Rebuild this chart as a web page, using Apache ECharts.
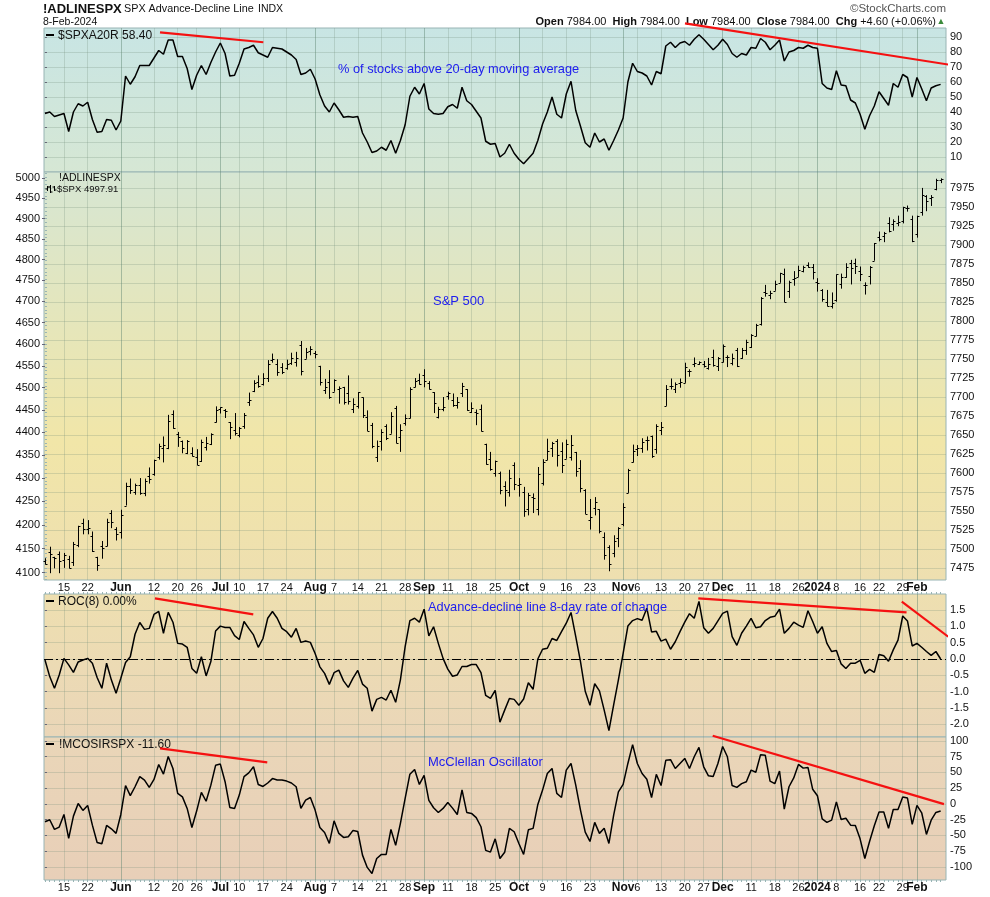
<!DOCTYPE html>
<html><head><meta charset="utf-8">
<style>html,body{margin:0;padding:0;background:#fff}#c{width:990px;height:897px}</style>
<script src="https://cdn.jsdelivr.net/npm/echarts@6/dist/echarts.min.js"></script>
</head><body><div id="c"></div>
<script>
// ---- trading days (month: day list) ----
const tradingDays = [
 ['2023-05',[9,10,11,12,15,16,17,18,19,22,23,24,25,26,30,31]],
 ['2023-06',[1,2,5,6,7,8,9,12,13,14,15,16,20,21,22,23,26,27,28,29,30]],
 ['2023-07',[3,5,6,7,10,11,12,13,14,17,18,19,20,21,24,25,26,27,28,31]],
 ['2023-08',[1,2,3,4,7,8,9,10,11,14,15,16,17,18,21,22,23,24,25,28,29,30,31]],
 ['2023-09',[1,5,6,7,8,11,12,13,14,15,18,19,20,21,22,25,26,27,28,29]],
 ['2023-10',[2,3,4,5,6,9,10,11,12,13,16,17,18,19,20,23,24,25,26,27,30,31]],
 ['2023-11',[1,2,3,6,7,8,9,10,13,14,15,16,17,20,21,22,24,27,28,29,30]],
 ['2023-12',[1,4,5,6,7,8,11,12,13,14,15,18,19,20,21,22,26,27,28,29]],
 ['2024-01',[2,3,4,5,8,9,10,11,12,16,17,18,19,22,23,24,25,26,29,30,31]],
 ['2024-02',[1,2,5,6,7,8]]
];
const categories = tradingDays.flatMap(([m,ds])=>ds.map(d=>m+'-'+String(d).padStart(2,'0')));
const tickLabels = ['15','22','Jun','12','20','26','Jul','10','17','24','Aug','7','14','21','28','Sep','11','18','25','Oct','9','16','23','Nov','6','13','20','27','Dec','11','18','26','2024','8','16','22','29','Feb'];
const tickDates = ['2023-05-15','2023-05-22','2023-06-01','2023-06-12','2023-06-20','2023-06-26','2023-07-03','2023-07-10','2023-07-17','2023-07-24','2023-08-01','2023-08-07','2023-08-14','2023-08-21','2023-08-28','2023-09-01','2023-09-11','2023-09-18','2023-09-25','2023-10-02','2023-10-09','2023-10-16','2023-10-23','2023-11-01','2023-11-06','2023-11-13','2023-11-20','2023-11-27','2023-12-01','2023-12-11','2023-12-18','2023-12-26','2024-01-02','2024-01-08','2024-01-16','2024-01-22','2024-01-29','2024-02-01'];
const monthLabels = ['Jun','Jul','Aug','Sep','Oct','Nov','Dec','2024','Feb'];

// ---- % of stocks above 20-day MA ----
const pctAbove20 = [
39,40,37,38,39,27,40,45.5,44,46.5,
35,26.5,27,35,34.5,28,34,64,58.5,63.5,
71,71,71,76,81,78.5,88,88,77,77,
69,55,64.5,71,65,73,80,86,79,64,
64.5,72.5,82,83,84.5,79.5,78,76.5,83,82.5,
82,80,78,75,65,66,68.5,62,51.5,44,
40,46,41.5,36.5,37,36.5,37,26,20,13,
14,16.5,14.5,21,12.5,21,31.5,50.5,56.5,52,
59,42,39,38.5,39,43.5,45,42.5,56.5,47.5,
45,40.5,36,20.5,18.5,19,10,12.5,18.5,12.5,
8.5,5.5,9,12.5,21,32,40,50,38.5,36,
52,60.5,41,30.5,19.5,16.5,26,20,22,14.5,
21,28,36,60,72.5,67,66,64,58,67,
65.5,84,86.5,83,86,87,84.5,88.5,91.5,88.5,
85,81.5,84.5,88.5,85,79,76.5,79,78,83,
82.5,89,86.5,81.5,84.5,88,74,80,81,83,
82.5,84.5,83,82.5,59,56,55,67.5,58,57.5,
48,46,38.5,28.5,37.5,44,53.5,49,44.5,59,
56.5,65,63,50,63,55.5,47.5,56,57.5,58.4];

// ---- $SPX OHLC ----
const spxOpen = [
4124,4144,4132,4139,4126,4128,4122,4157,4204,4191,
4177,4133,4155,4156,4226,4191,4184,4241,4283,4271,
4285,4268,4304,4308,4345,4366,4366,4440,4397,4381,
4355,4354,4345,4337,4367,4374,4422,4451,4449,4423,
4405,4394,4415,4467,4492,4514,4508,4521,4563,4555,
4548,4544,4556,4559,4598,4566,4585,4579,4550,4494,
4514,4491,4498,4501,4487,4451,4458,4478,4434,4416,
4345,4380,4415,4397,4455,4389,4421,4433,4501,4518,
4530,4510,4490,4434,4452,4481,4473,4462,4487,4497,
4445,4445,4452,4374,4341,4310,4312,4283,4270,4328,
4284,4270,4233,4259,4234,4289,4339,4366,4381,4360,
4342,4345,4357,4322,4274,4211,4235,4233,4175,4153,
4140,4172,4201,4268,4334,4364,4365,4384,4391,4364,
4406,4459,4505,4497,4510,4511,4538,4554,4555,4555,
4546,4571,4549,4559,4569,4557,4587,4568,4586,4593,
4618,4647,4721,4715,4725,4744,4764,4724,4754,4759,
4773,4786,4782,4745,4726,4698,4690,4703,4741,4759,
4792,4791,4772,4739,4761,4797,4854,4856,4889,4886,
4888,4893,4925,4899,4862,4917,4957,4951,4973,4995];
const spxHigh = [
4130,4154,4133,4144,4141,4135,4164,4198,4213,4210,
4186,4133,4166,4213,4231,4195,4232,4290,4299,4288,
4300,4299,4323,4340,4375,4391,4439,4449,4401,4382,
4383,4367,4363,4384,4390,4398,4458,4456,4452,4423,
4443,4412,4443,4489,4517,4528,4533,4563,4578,4565,
4556,4564,4580,4582,4607,4591,4595,4584,4550,4520,
4540,4519,4503,4502,4528,4476,4490,4478,4449,4421,
4382,4407,4418,4445,4459,4418,4440,4501,4522,4532,
4542,4515,4490,4457,4479,4491,4487,4479,4511,4497,
4467,4451,4462,4375,4357,4338,4314,4293,4318,4334,
4300,4281,4268,4267,4324,4341,4386,4379,4385,4378,
4384,4394,4357,4339,4276,4255,4259,4233,4184,4157,
4178,4195,4246,4320,4373,4372,4387,4391,4393,4418,
4423,4506,4521,4512,4521,4557,4542,4569,4560,4561,
4568,4587,4570,4599,4574,4578,4591,4591,4610,4623,
4647,4710,4739,4725,4749,4768,4778,4749,4772,4785,
4785,4793,4789,4755,4729,4727,4721,4764,4766,4791,
4799,4802,4783,4745,4784,4840,4868,4867,4903,4898,
4907,4929,4932,4907,4907,4976,4958,4958,4999,5000];
const spxLow = [
4117,4099,4109,4099,4110,4109,4114,4153,4180,4180,
4143,4104,4129,4155,4193,4167,4171,4241,4266,4264,
4264,4261,4288,4305,4340,4334,4363,4408,4368,4354,
4352,4347,4328,4335,4360,4372,4422,4442,4432,4385,
4393,4389,4408,4459,4490,4500,4505,4513,4557,4527,
4531,4541,4552,4548,4528,4566,4574,4567,4505,4486,
4475,4491,4464,4462,4462,4443,4453,4432,4403,4365,
4335,4360,4383,4397,4376,4357,4415,4431,4501,4507,
4501,4496,4443,4431,4447,4473,4457,4453,4479,4448,
4443,4416,4402,4329,4316,4303,4265,4239,4260,4274,
4260,4217,4220,4225,4220,4284,4339,4346,4325,4311,
4342,4338,4303,4269,4223,4190,4220,4182,4127,4103,
4132,4153,4197,4268,4334,4348,4355,4360,4344,4353,
4394,4459,4496,4488,4500,4511,4525,4547,4552,4546,
4541,4548,4538,4558,4547,4551,4547,4566,4575,4591,
4618,4643,4711,4705,4725,4744,4698,4708,4737,4758,
4769,4780,4752,4723,4699,4688,4683,4699,4730,4756,
4740,4765,4748,4716,4740,4797,4844,4842,4866,4870,
4881,4888,4917,4842,4853,4907,4918,4931,4970,4988];
const spxClose = [
4119,4138,4131,4124,4136,4110,4159,4198,4192,4193,
4146,4115,4151,4205,4206,4180,4221,4282,4274,4284,
4268,4294,4299,4339,4369,4373,4426,4410,4389,4366,
4382,4348,4329,4378,4377,4396,4450,4456,4447,4412,
4399,4410,4439,4472,4510,4505,4523,4555,4566,4535,
4536,4555,4567,4567,4537,4582,4589,4577,4513,4502,
4478,4518,4499,4468,4469,4464,4490,4438,4404,4370,
4370,4400,4388,4436,4376,4406,4433,4498,4515,4508,
4516,4497,4465,4451,4457,4487,4462,4467,4505,4450,
4454,4444,4402,4330,4320,4337,4274,4275,4300,4288,
4288,4229,4264,4258,4309,4336,4358,4377,4350,4328,
4374,4373,4315,4278,4224,4217,4248,4187,4137,4117,
4167,4194,4238,4318,4358,4366,4378,4383,4347,4415,
4412,4496,4503,4508,4514,4547,4538,4557,4559,4550,
4555,4551,4568,4595,4570,4567,4549,4586,4604,4622,
4644,4707,4720,4719,4741,4768,4698,4747,4755,4775,
4782,4783,4770,4743,4705,4689,4697,4764,4757,4783,
4780,4784,4766,4739,4781,4840,4850,4865,4869,4894,
4891,4928,4925,4846,4906,4959,4943,4954,4995,4998];

// ---- ROC(8) of the A-D line ----
const roc8 = [
-.03,-.54,-.90,-.49,.02,-.18,-.41,-.09,-.03,.02,
-.13,-.57,-.90,-.13,-.64,-1.05,-.59,-.11,.07,.76,
1.12,.91,.94,1.37,1.46,.79,1.43,1.13,.48,.46,
.36,-.29,-.44,.07,-.52,-.08,.86,1.01,.97,.97,
.72,.60,1.15,.94,.74,.36,.63,1.25,1.46,1.25,
.94,.84,.67,.94,.51,.55,.51,.17,-.24,-.44,
-.78,-.42,-.34,-.67,-.87,-.59,-.35,-.77,-.90,-1.60,
-1.24,-1.18,-1.26,-.96,-1.33,-.64,.38,1.18,1.25,1.13,
1.53,.71,.99,.48,.02,-.31,-.53,-.49,-.23,-.23,
-.17,-.17,-.42,-1.12,-1.21,-.96,-1.94,-1.57,-1.21,-1.24,
-1.42,-1.23,-.73,-.93,0,.30,.33,.63,.57,.84,
1.10,1.43,.69,-.08,-.99,-1.42,-.76,-.98,-1.57,-2.20,
-1.41,-.64,.17,1.01,1.18,1.24,1.19,1.56,.83,.85,
.55,.61,.30,.53,.84,1.13,1.39,1.25,1.77,.96,
.79,.94,1.17,1.40,1.47,.69,.42,.79,1.01,1.25,
.96,.99,1.18,1.28,1.31,1.53,.79,.94,1.13,1.04,
.97,1.48,1.15,.79,.99,.48,.23,.26,-.15,-.29,
-.13,-.13,-.04,-.44,-.32,-.41,.14,.10,-.07,.28,
.58,1.32,1.17,.40,.48,.36,.23,.11,.23,0];

// ---- McClellan Oscillator ----
const mcClellan = [
-28.6,-25.4,-40.7,-37,-17,-55,-19.6,.5,-10.6,-2.6,
-33.9,-61.4,-63.5,-34.4,-39.7,-47,-17,29,13,27,
43,37.6,26,38.6,62.4,47,75,56,16.4,11,
-7.4,-37.6,-11.6,18,4,29.6,61,63,35,-5.8,
-7.4,13.8,43,49,58.7,30.7,27.5,33,40,37.6,
37.6,36,33,27,-7.4,5.8,10,-10,-37.6,-45.5,
-63,-27,-47,-53.4,-52.4,-42.3,-44,-81.5,-101,-110.6,
-86.8,-80.4,-80.4,-40.7,-66,-31,8.5,47,54.5,30.7,
45,5.3,-6.3,-13.8,-7.4,2,-6.9,-17,22,-13.8,
-15.3,-22,-36.5,-74,-76.7,-55.6,-86.8,-77,-39,-44.4,
-63,-80.4,-41.3,-39,-1,21.7,48,56,16.4,10,
53.4,64,29.6,-10,-45,-59.8,-29.6,-47,-39,-63,
-18,19,30.7,64,94,64,48,39,10,46.6,
29,69,70,56,64,72,56,74.6,89.4,58.7,
44.4,43.4,64,91,74.6,29,26,32,35,53.4,
50,78,77,36,32,52,-8.5,27,41,62.4,
56.6,57.7,23,12.7,-24,-29.6,-26,3,-25,-23,
-34,-34.4,-55.6,-86.8,-60,-35,-13,-13,-39,-9,
-9,10.6,9,-32.8,-2.6,-14.3,-48.7,-26,-13.8,-11.6];

// ---- axis tick values ----
const spxTicks = [4100,4150,4200,4250,4300,4350,4400,4450,4500,4550,4600,4650,4700,4750,4800,4850,4900,4950,5000];
const adlTicks = [7475,7500,7525,7550,7575,7600,7625,7650,7675,7700,7725,7750,7775,7800,7825,7850,7875,7900,7925,7950,7975];
const pctTicks = [10,20,30,40,50,60,70,80,90];
const rocTicks = [-2,-1.5,-1,-.5,0,.5,1,1.5];
const mcoTicks = [-100,-75,-50,-25,0,25,50,75,100];

// ---- hand-drawn red trend lines as [trading-day number, value] ----
const trendPctA = [[24.27,93.1],[46.07,86.5]];
const trendPctB = [[135.05,99.1],[191.3,71.3]];
const trendRocA = [[23.2,1.86],[43.95,1.37]];
const trendRocB = [[137.86,1.86],[181.8,1.43]];
const trendRocC = [[180.8,1.76],[190.6,.685]];
const trendMcoA = [[24.27,87.9],[46.9,65.7]];
const trendMcoB = [[140.9,107.9],[189.7,-.5]];

for (const [n,a] of Object.entries({pctAbove20,spxOpen,spxHigh,spxLow,spxClose,roc8,mcClellan}))
  if (a.length!==categories.length) throw new Error(n+' length '+a.length+' vs '+categories.length);

const FONT = '"Liberation Sans",Arial,sans-serif';
const PX_LEFT=44, PX_W=902;
const panels=[{top:28,h:144},{top:172,h:408},{top:594,h:143},{top:737,h:143}];
const grads=[
 [[0,'#c8e5e4'],[1,'#d6e7d4']],
 [[0,'#d6e6d3'],[.66,'#f1e6a8'],[1,'#eedfb0']],
 [[0,'#eedfb0'],[1,'#ead6b8']],
 [[0,'#ead6b8'],[1,'#e8cfb8']]
];
const grid=panels.map((p,i)=>({left:PX_LEFT,width:PX_W,top:p.top,height:p.h,show:true,borderColor:'#98b4b4',borderWidth:1,
  backgroundColor:{type:'linear',x:0,y:0,x2:0,y2:1,colorStops:grads[i].map(([offset,color])=>({offset,color}))}}));

const tickIdx=tickDates.map(d=>categories.indexOf(d));
const labelAt={}; tickIdx.forEach((ix,k)=>labelAt[ix]=tickLabels[k]);
const monthIdx=tickIdx.filter((ix,k)=>monthLabels.includes(tickLabels[k]));
const weekIdx=tickIdx.filter((ix,k)=>!monthLabels.includes(tickLabels[k]));
const allIdx=categories.map((_,i)=>i);
const labelIdx=tickIdx.concat(categories.length-1); // blank last label keeps "29" beside "Feb"
const XMIN=-0.21,XMAX=190.13;
const xAxis=[], xBase=[];
panels.forEach((p,g)=>{
  const showLab=(g===1||g===3);
  xBase[g]=xAxis.length;
  xAxis.push({type:'value',gridIndex:g,min:XMIN,max:XMAX,position:'bottom',axisLine:{show:false},
    axisTick:{show:false,customValues:tickIdx},
    splitLine:{show:false},
    axisLabel:{show:showLab,customValues:labelIdx,margin:2,fontFamily:FONT,fontSize:11,color:'#111',hideOverlap:false,
      showMinLabel:true,showMaxLabel:true,
      formatter:v=>monthLabels.includes(labelAt[v])?'{b|'+labelAt[v]+'}':(labelAt[v]||''),
      rich:{b:{fontWeight:'bold',fontSize:12,fontFamily:FONT,color:'#111'}}}});
  xAxis.push({type:'value',gridIndex:g,min:XMIN,max:XMAX,position:'bottom',axisLine:{show:false},axisLabel:{show:false},
    axisTick:{show:false,customValues:weekIdx},splitLine:{show:true,lineStyle:{color:'rgba(110,140,120,.25)',width:1}}});
  xAxis.push({type:'value',gridIndex:g,min:XMIN,max:XMAX,position:'bottom',axisLine:{show:false},axisLabel:{show:false},
    axisTick:{show:false,customValues:monthIdx},splitLine:{show:true,lineStyle:{color:'rgba(90,130,110,.45)',width:1}}});
  if (g>=2) xAxis.push({type:'value',gridIndex:g,min:XMIN,max:XMAX,position:g===2?'top':'bottom',axisLine:{show:false},axisLabel:{show:false},
    axisTick:{show:true,length:2,customValues:allIdx,lineStyle:{color:'#98b4b4',width:1}},splitLine:{show:false}});
});
const yLab={fontFamily:FONT,fontSize:11,color:'#111',margin:4,hideOverlap:false};
const hLine={show:true,lineStyle:{color:'rgba(110,140,120,.25)',width:1}};
const yTick={show:true,length:2,lineStyle:{color:'#667'}};
const adlMinorTicks=[]; for(let v=7460;v<=7995;v+=5) adlMinorTicks.push(v);
const yAxis=[
 {type:'value',gridIndex:0,position:'right',min:0,max:96,axisLine:{show:false},
  axisTick:{...yTick,customValues:pctTicks},splitLine:hLine,axisLabel:{...yLab,customValues:pctTicks}},
 {type:'log',logBase:10,gridIndex:1,position:'left',min:4085,max:5016,axisLine:{show:false},
  axisTick:{...yTick,length:3,customValues:spxTicks},splitLine:{show:false},axisLabel:{...yLab,customValues:spxTicks,formatter:v=>String(Math.round(v))}},
 {type:'value',gridIndex:1,position:'right',min:7459.6,max:7996.4,axisLine:{show:false},
  axisTick:{...yTick,customValues:adlTicks},splitLine:hLine,axisLabel:{...yLab,customValues:adlTicks,formatter:v=>String(v)}},
 {type:'value',gridIndex:2,position:'right',min:-2.395,max:1.996,axisLine:{show:false},
  axisTick:{...yTick,customValues:rocTicks},splitLine:hLine,axisLabel:{...yLab,customValues:rocTicks,formatter:v=>v.toFixed(1)}},
 {type:'value',gridIndex:3,position:'right',min:-121,max:106,axisLine:{show:false},
  axisTick:{...yTick,customValues:mcoTicks},splitLine:hLine,axisLabel:{...yLab,customValues:mcoTicks}},
 {type:'value',gridIndex:1,position:'right',min:7459.6,max:7996.4,axisLine:{show:false},axisLabel:{show:false},splitLine:{show:false},
  axisTick:{show:true,length:2,customValues:adlMinorTicks,lineStyle:{color:'#98b4b4',width:1}}}
];
const pairs=a=>a.map((v,i)=>[i,v]);
const lineS=(g,y,data,extra)=>({type:'line',xAxisIndex:xBase[g],yAxisIndex:y,data,symbol:'none',silent:true,animation:false,
  lineStyle:{color:'#000',width:1.5},z:5,...extra});
const redS=(g,y,data)=>({type:'line',xAxisIndex:xBase[g],yAxisIndex:y,data,symbol:'none',silent:true,animation:false,clip:false,
  lineStyle:{color:'#f51111',width:2.2},z:8});
const barS={type:'custom',xAxisIndex:xBase[1],yAxisIndex:1,silent:true,animation:false,z:5,clip:false,
  encode:{x:0,y:[1,2,3,4]},
  data:categories.map((_,i)=>[i,spxOpen[i],spxHigh[i],spxLow[i],spxClose[i]]),
  renderItem(p,api){
    const x=api.value(0);
    const o=api.coord([x,api.value(1)]),h=api.coord([x,api.value(2)]),l=api.coord([x,api.value(3)]),c=api.coord([x,api.value(4)]);
    const s={stroke:'#000',lineWidth:1};
    const X=Math.round(o[0])+.5;
    return {type:'group',children:[
      {type:'line',shape:{x1:X,y1:h[1],x2:X,y2:l[1]},style:s},
      {type:'line',shape:{x1:X-2,y1:Math.round(o[1])+.5,x2:X,y2:Math.round(o[1])+.5},style:s},
      {type:'line',shape:{x1:X,y1:Math.round(c[1])+.5,x2:X+2,y2:Math.round(c[1])+.5},style:s}
    ]};
  }};
const series=[
 lineS(0,0,pairs(pctAbove20)),
 barS,
 lineS(2,3,pairs(roc8),{markLine:{silent:true,symbol:'none',animation:false,label:{show:false},
    lineStyle:{color:'#000',width:1,type:[9,3,2,3]},data:[{yAxis:0}]}}),
 lineS(3,4,pairs(mcClellan)),
 redS(0,0,trendPctA),redS(0,0,trendPctB),
 redS(2,3,trendRocA),redS(2,3,trendRocB),redS(2,3,trendRocC),
 redS(3,4,trendMcoA),redS(3,4,trendMcoB)
];
const T=(text,x,y,font,fill,extra)=>({type:'text',z:6,silent:true,style:{text,x,y,font,fill:fill||'#111',verticalAlign:'middle',...extra}});
const F=(s,w)=>(w||'')+' '+s+'px '+FONT;
const blue='#2020ee';
const key=(x,y1,y2,yo,yc)=>[
 {type:'line',silent:true,z:6,shape:{x1:x,y1,x2:x,y2},style:{stroke:'#000',lineWidth:1}},
 {type:'line',silent:true,z:6,shape:{x1:x-2,y1:yo,x2:x,y2:yo},style:{stroke:'#000',lineWidth:1}},
 {type:'line',silent:true,z:6,shape:{x1:x,y1:yc,x2:x+2,y2:yc},style:{stroke:'#000',lineWidth:1}}];
const graphic=[
 T('!ADLINESPX',43,9,F(13,'bold'),'#111'),
 T('SPX Advance-Decline Line',124,9,F(10.8)),
 T('INDX',258,9,F(10.5)),
 T('8-Feb-2024',43,22,F(10.5)),
 T('©StockCharts.com',946,9,F(11.5),'#555',{align:'right'}),
 {type:'text',z:6,silent:true,style:{x:936,y:22,align:'right',verticalAlign:'middle',font:F(11),fill:'#111',
   text:'{b|Open} 7984.00  {b|High} 7984.00  {b|Low} 7984.00  {b|Close} 7984.00  {b|Chg} +4.60 (+0.06%)',
   rich:{b:{fontWeight:'bold',fontFamily:FONT,fontSize:11,fill:'#111'}}}},
 T('▲',941,22,F(9),'#3a8a3a',{align:'center'}),
 {type:'rect',shape:{x:46,y:34,width:8,height:2},style:{fill:'#000'},silent:true,z:6},
 T('$SPXA20R 58.40',58,35.5,F(12)),
 T('% of stocks above 20-day moving average',338,69,F(12.8),blue),
 T('!ADLINESPX',59,178,F(10.5)),
 T('$SPX 4997.91',57,189,F(9.5)),
 ...key(47.5,186,191,189,187),...key(50.5,185,193,187,192),...key(54.5,186,191,187,190),
 T('S&P 500',433,301,F(13),blue),
 {type:'rect',shape:{x:46,y:600,width:8,height:2},style:{fill:'#000'},silent:true,z:6},
 T('ROC(8) 0.00%',58,601.5,F(12)),
 T('Advance-decline line 8-day rate of change',428,607,F(12.8),blue),
 {type:'rect',shape:{x:46,y:743,width:8,height:2},style:{fill:'#000'},silent:true,z:6},
 T('!MCOSIRSPX -11.60',59,744.5,F(12)),
 T('McClellan Oscillator',428,762,F(13),blue)
];
const chart=echarts.init(document.getElementById('c'),null,{renderer:'canvas'});
chart.setOption({animation:false,backgroundColor:'#fff',grid,xAxis,yAxis,series,graphic:{elements:graphic}});
</script></body></html>
